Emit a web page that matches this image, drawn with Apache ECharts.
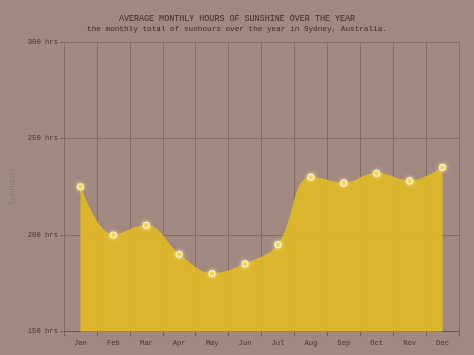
<!DOCTYPE html>
<html><head><meta charset="utf-8">
<script src="https://cdn.jsdelivr.net/npm/echarts@6/dist/echarts.min.js"></script>
<style>html,body{margin:0;padding:0;background:#a2897f;}#c{width:474px;height:355px;}</style>
</head><body><div id="c"></div>
<script>
const months = ['Jan','Feb','Mar','Apr','May','Jun','Jul','Aug','Sep','Oct','Nov','Dec'];
const sunhours = [225, 200, 205, 190, 180, 185, 195, 230, 227, 232, 228, 235];
const yTicks = [150, 200, 250, 300];
const chart = echarts.init(document.getElementById('c'), null, {renderer:'canvas'});
const mono = '"Liberation Mono", "DejaVu Sans Mono", monospace';
chart.setOption({
  backgroundColor: '#a2897f',
  animation: false,
  title: {
    text: 'AVERAGE MONTHLY HOURS OF SUNSHINE OVER THE YEAR',
    subtext: 'the monthly total of sunhours over the year in Sydney, Australia.',
    left: 'center', top: 10, itemGap: 2,
    textStyle: {fontFamily: mono, fontSize: 8.4, fontWeight: 'normal', color: '#3f2a25'},
    subtextStyle: {fontFamily: mono, fontSize: 7.7, color: '#3f2a25'}
  },
  grid: {left: 64, right: 15, top: 42, bottom: 23.5},
  xAxis: {
    type: 'category', data: months, boundaryGap: true,
    axisLine: {lineStyle: {color: '#6e5650', width: 1}},
    axisTick: {show: true, length: 5, lineStyle: {color: '#7a6159'}},
    axisLabel: {fontFamily: mono, fontSize: 7.2, color: '#4a342e', margin: 8},
    splitLine: {show: true, lineStyle: {color: '#866c63', width: 1}}
  },
  yAxis: {
    type: 'value', min: yTicks[0], max: yTicks[yTicks.length-1], interval: 50,
    name: 'Sunhours', nameLocation: 'middle', nameGap: 30, nameRotate: 90,
    nameTextStyle: {fontFamily: '"DejaVu Sans", sans-serif', fontSize: 8, color: '#857d7b'},
    axisLine: {show: false},
    axisTick: {show: true, length: 4, lineStyle: {color: '#7a6159'}},
    axisLabel: {fontFamily: mono, fontSize: 7.2, color: '#4a342e', margin: 6, formatter: v => v + ' hrs'},
    splitLine: {show: true, lineStyle: {color: '#866c63', width: 1}}
  },
  series: [{
    type: 'line', data: sunhours, smooth: 0.4,
    symbol: 'circle', symbolSize: 6,
    itemStyle: {color: '#f0cd3a', borderColor: '#fff4c8', borderWidth: 1.2, shadowColor: 'rgba(255,240,180,0.8)', shadowBlur: 4},
    lineStyle: {color: '#e0b925', width: 1},
    areaStyle: {color: '#e0b925', opacity: 0.92}
  }]
});
</script></body></html>
